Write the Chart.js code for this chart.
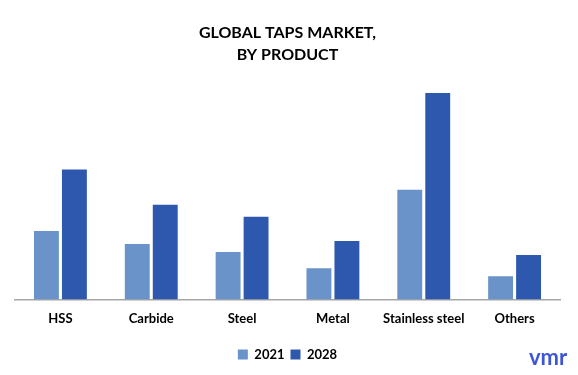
<!DOCTYPE html>
<html>
<head>
<meta charset="utf-8">
<script src="https://cdn.jsdelivr.net/npm/chart.js@4/dist/chart.umd.min.js"></script>
<style>
  html, body { margin: 0; padding: 0; background: #fff; }
  #wrap { width: 578px; height: 375px; position: relative; }
</style>
</head>
<body>
<div id="wrap"><canvas id="chart"></canvas></div>
<script>
const categories = ['HSS', 'Carbide', 'Steel', 'Metal', 'Stainless steel', 'Others'];
const values2021 = [6.8, 5.5, 4.7, 3.1, 10.9, 2.3];
const values2028 = [12.9, 9.4, 8.2, 5.8, 20.5, 4.4];
const seriesNames = ['2021', '2028'];
const titleLines = ['GLOBAL TAPS MARKET,', 'BY PRODUCT'];

const fontFamily = "Lato, 'Liberation Sans', sans-serif";

// small "vmr" mark in the bottom right corner
const logoPlugin = {
    id: 'logo',
    afterDraw(chart) {
        const ctx = chart.ctx;
        ctx.save();
        ctx.fillStyle = '#3d56d6';
        ctx.font = "bold 22px " + fontFamily;
        ctx.textAlign = 'center';
        ctx.textBaseline = 'middle';
        ctx.fillText('vmr', 548, 358);
        ctx.restore();
    }
};

const ctx = document.getElementById('chart').getContext('2d');
new Chart(ctx, {
    type: 'bar',
    data: {
        labels: categories,
        datasets: [{
            label: seriesNames[0],
            data: values2021,
            backgroundColor: '#6A93C9',
            borderWidth: 0
        }, {
            label: seriesNames[1],
            data: values2028,
            backgroundColor: '#2E58AE',
            borderWidth: 0
        }]
    },
    options: {
        responsive: true,
        maintainAspectRatio: false,
        animation: false,
        categoryPercentage: 0.616,
        barPercentage: 0.89,
        layout: {
            padding: { left: 15, right: 18, top: 0, bottom: 4 }
        },
        plugins: {
            title: {
                display: true,
                text: titleLines,
                color: '#000',
                font: { family: fontFamily, size: 16, weight: 'bold', lineHeight: 1.375 },
                padding: { top: 22, bottom: 22 }
            },
            legend: {
                display: true,
                position: 'bottom',
                labels: {
                    color: '#000',
                    boxWidth: 10,
                    boxHeight: 10,
                    padding: 6,
                    font: { family: fontFamily, size: 13, weight: 'bold' }
                }
            },
            tooltip: { enabled: false }
        },
        scales: {
            x: {
                grid: { display: false },
                border: { display: true, color: '#A6A6A6', width: 1.5 },
                ticks: {
                    color: '#000',
                    padding: 4,
                    font: { family: fontFamily, size: 13, weight: 'bold' }
                },
                // extra room under the labels, above the legend
                afterFit(scale) {
                    scale.height += 11;
                }
            },
            y: {
                display: false,
                beginAtZero: true,
                min: 0,
                max: 21
            }
        }
    },
    plugins: [logoPlugin]
});
</script>
</body>
</html>
